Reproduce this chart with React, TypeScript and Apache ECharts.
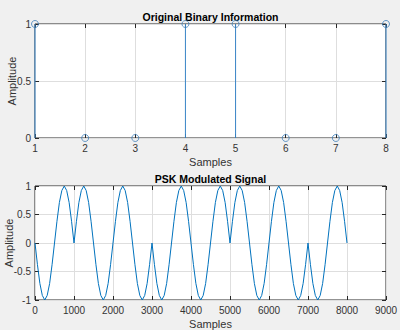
import React, { useEffect, useRef } from "react";
import * as echarts from "echarts";

// Top plot: original binary information
const bitSamples = [1, 2, 3, 4, 5, 6, 7, 8];
const bits = [1, 0, 0, 1, 1, 0, 0, 1];

// Bottom plot: PSK modulated signal, read every 62.5 samples (0..8000)
const pskStep = 62.5;
const pskValues = [
  // bit 1 (0-1000)
  0, -0.38, -0.71, -0.92, -1, -0.92, -0.71, -0.38, 0, 0.38, 0.71, 0.92, 1, 0.92, 0.71, 0.38,
  // bit 0 (1000-2000)
  0, 0.38, 0.71, 0.92, 1, 0.92, 0.71, 0.38, 0, -0.38, -0.71, -0.92, -1, -0.92, -0.71, -0.38,
  // bit 0 (2000-3000)
  0, 0.38, 0.71, 0.92, 1, 0.92, 0.71, 0.38, 0, -0.38, -0.71, -0.92, -1, -0.92, -0.71, -0.38,
  // bit 1 (3000-4000)
  0, -0.38, -0.71, -0.92, -1, -0.92, -0.71, -0.38, 0, 0.38, 0.71, 0.92, 1, 0.92, 0.71, 0.38,
  // bit 1 (4000-5000)
  0, -0.38, -0.71, -0.92, -1, -0.92, -0.71, -0.38, 0, 0.38, 0.71, 0.92, 1, 0.92, 0.71, 0.38,
  // bit 0 (5000-6000)
  0, 0.38, 0.71, 0.92, 1, 0.92, 0.71, 0.38, 0, -0.38, -0.71, -0.92, -1, -0.92, -0.71, -0.38,
  // bit 0 (6000-7000)
  0, 0.38, 0.71, 0.92, 1, 0.92, 0.71, 0.38, 0, -0.38, -0.71, -0.92, -1, -0.92, -0.71, -0.38,
  // bit 1 (7000-8000)
  0, -0.38, -0.71, -0.92, -1, -0.92, -0.71, -0.38, 0, 0.38, 0.71, 0.92, 1, 0.92, 0.71, 0.38,
  0,
];

const topTitle = "Original Binary Information";
const bottomTitle = "PSK Modulated Signal";
const xName = "Samples";
const yName = "Amplitude";

const FONT = '"Liberation Sans", Arial, Helvetica, sans-serif';
const AX = "#262626";
const LBL = "#333333";
const GRIDC = "#dedede";
const BLUE = "#0072BD";
const STEM = "#3a86c8";

const plainFmt = (v: number) => String(v);

function mainAxis(extra: any, labelMargin: number) {
  return {
    type: "value",
    axisLine: { show: false, onZero: false },
    axisTick: { show: true, inside: true, length: 4, lineStyle: { color: AX } },
    axisLabel: { color: LBL, fontSize: 10, fontFamily: FONT, margin: labelMargin, formatter: plainFmt },
    splitLine: { show: true, lineStyle: { color: GRIDC, width: 1 } },
    nameLocation: "middle",
    nameMoveOverlap: false,
    nameTextStyle: { color: LBL, fontSize: 11, fontFamily: FONT },
    ...extra,
  };
}

function mirrorAxis(extra: any) {
  return {
    type: "value",
    axisLine: { show: false, onZero: false },
    axisTick: { show: true, inside: true, length: 4, lineStyle: { color: AX } },
    axisLabel: { show: false },
    splitLine: { show: false },
    ...extra,
  };
}

export default function App() {
  const ref = useRef<HTMLDivElement>(null);
  useEffect(() => {
    document.body.style.margin = "0";
    if (!ref.current) return;
    const chart = echarts.init(ref.current, null, { renderer: "svg" });
    const pskData = pskValues.map((v, i) => [i * pskStep, v]);
    const stemData = bitSamples.map((s, i) => [s, bits[i]]);
    const stemSeries = bitSamples.map((s, i) => ({
      type: "line",
      xAxisIndex: 0,
      yAxisIndex: 0,
      data: [
        [s, 0],
        [s, bits[i]],
      ],
      showSymbol: false,
      symbol: "none",
      clip: false,
      silent: true,
      lineStyle: { color: STEM, width: 1 },
      z: 4,
    }));
    const gridBase = {
      show: true,
      backgroundColor: "#fff",
      borderColor: AX,
      borderWidth: 1,
      containLabel: false,
      outerBoundsMode: "none",
    };
    chart.setOption({
      animation: false,
      backgroundColor: "#f0f0f0",
      grid: [
        { ...gridBase, left: 35, top: 24, width: 351, height: 114 },
        { ...gridBase, left: 35, top: 186, width: 351, height: 114 },
      ],
      xAxis: [
        mainAxis({ gridIndex: 0, min: 1, max: 8, interval: 1, position: "bottom", name: xName, nameGap: 18 }, 5),
        mirrorAxis({ gridIndex: 0, min: 1, max: 8, interval: 1, position: "top" }),
        mainAxis({ gridIndex: 1, min: 0, max: 9000, interval: 1000, position: "bottom", name: xName, nameGap: 18 }, 5),
        mirrorAxis({ gridIndex: 1, min: 0, max: 9000, interval: 1000, position: "top" }),
      ],
      yAxis: [
        mainAxis({ gridIndex: 0, min: 0, max: 1, interval: 0.5, position: "left", name: yName, nameGap: 18 }, 4),
        mirrorAxis({ gridIndex: 0, min: 0, max: 1, interval: 0.5, position: "right" }),
        mainAxis({ gridIndex: 1, min: -1, max: 1, interval: 0.5, position: "left", name: yName, nameGap: 21 }, 4),
        mirrorAxis({ gridIndex: 1, min: -1, max: 1, interval: 0.5, position: "right" }),
      ],
      series: [
        ...stemSeries,
        {
          type: "scatter",
          xAxisIndex: 0,
          yAxisIndex: 0,
          data: stemData,
          symbol: "circle",
          symbolSize: 7,
          clip: false,
          itemStyle: { color: "transparent", borderColor: "#3f7fba", borderWidth: 1 },
          z: 5,
        },
        {
          type: "line",
          xAxisIndex: 2,
          yAxisIndex: 2,
          data: pskData,
          showSymbol: false,
          symbol: "none",
          lineStyle: { color: BLUE, width: 1 },
          z: 5,
        },
      ],
      graphic: [
        {
          type: "text",
          x: 210.5,
          y: 11,
          style: { text: topTitle, fontSize: 10.5, fontWeight: "bold", fontFamily: FONT, fill: "#000", align: "center", verticalAlign: "top" },
        },
        {
          type: "text",
          x: 210.5,
          y: 173,
          style: { text: bottomTitle, fontSize: 10.5, fontWeight: "bold", fontFamily: FONT, fill: "#000", align: "center", verticalAlign: "top" },
        },
      ],
    });
    return () => chart.dispose();
  }, []);
  return <div ref={ref} style={{ width: 400, height: 330, background: "#f0f0f0" }} />;
}
